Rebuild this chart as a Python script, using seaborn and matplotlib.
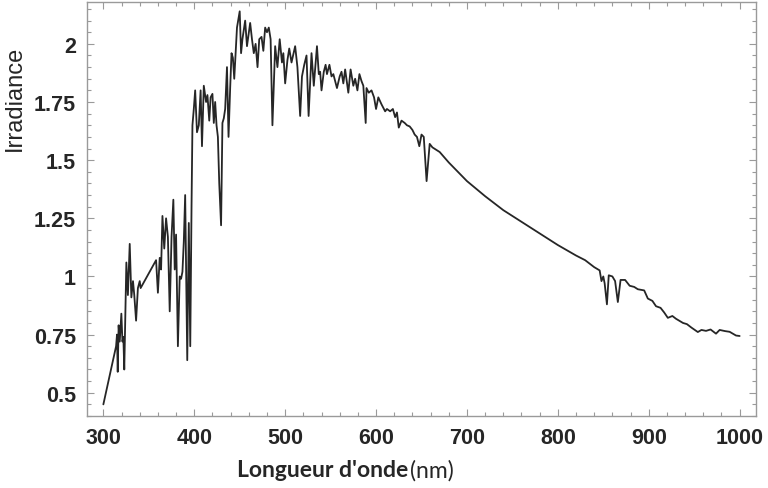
#!/usr/bin/env python3

import matplotlib
matplotlib.use("Agg")
import matplotlib.pylab as plt
from matplotlib.ticker import MultipleLocator, FixedLocator
import pandas as pd
import seaborn as sns

# Spectre solaire (longueur d'onde en nm, irradiance)
wavelength = [
    300, 314, 315, 315.8, 316.8, 318, 319.8, 321, 322, 323, 325.3, 327, 329,
    330.8, 332.6, 334, 336, 338, 340, 341, 358, 360, 362, 363.5, 365, 367, 369,
    371, 373, 375, 377, 378.5, 380, 382, 384, 385.5, 387, 388.5, 390, 392.3,
    394, 395.6, 397, 398, 399.5, 401, 403, 405, 407, 408.5, 410.5, 413, 414.5,
    416.5, 418, 420, 421.5, 423, 424.5, 426, 427.5, 429.5, 431, 432.5, 434,
    436, 437.7, 439.5, 441, 442.5, 444, 447, 450, 451.5, 453, 456, 458, 461.5,
    463.5, 465.5, 467.5, 469.6, 471.5, 474, 476, 478, 480, 482, 484, 486, 489,
    491.5, 494, 496.5, 498, 500, 502.5, 504.5, 507, 511, 513.5, 516.5, 518.5,
    521, 523.5, 525.8, 529, 531.5, 535, 537, 538.5, 540, 542.5, 544.5, 546,
    548.7, 551, 553, 557, 560, 562, 564, 566, 569.5, 572, 575, 577, 579.5,
    581.7, 584, 586, 588.6, 589.5, 592, 595, 597.8, 600, 602.5, 606, 610, 612,
    615.5, 618.5, 621, 623, 625, 628, 631.5, 634, 637, 640, 642.5, 645, 647.6,
    650, 652.5, 655.6, 659, 662, 670, 680, 700, 720, 740, 760, 780, 800, 820,
    825, 830, 835, 840, 843, 846, 848, 850, 851.5, 854, 856, 860, 863, 866,
    869, 874, 879, 884, 888, 895, 899, 904, 908, 913, 917, 921, 926, 930,
    937.7, 942, 947, 954, 958, 963, 968, 974, 978, 984, 989, 996, 1000,
]
irradiance = [
    0.45, 0.70, 0.75, 0.59, 0.79, 0.72, 0.84, 0.72, 0.74, 0.60, 1.06, 0.92, 1.14,
    0.91, 0.98, 0.92, 0.81, 0.95, 0.98, 0.95, 1.07, 0.93, 1.08, 1.03, 1.26, 1.12, 1.25,
    1.17, 0.85, 1.17, 1.33, 1.03, 1.18, 0.70, 1.00, 0.99, 1.02, 1.15, 1.35, 0.64,
    1.23, 0.70, 1.30, 1.65, 1.72, 1.80, 1.62, 1.65, 1.80, 1.56, 1.82, 1.75, 1.78,
    1.67, 1.77, 1.785, 1.66, 1.75, 1.65, 1.60, 1.40, 1.22, 1.66, 1.68, 1.72,
    1.90, 1.60, 1.81, 1.96, 1.94, 1.85, 2.07, 2.14, 1.96, 2.02, 2.10, 1.99, 2.09,
    2.02, 1.96, 2.00, 1.90, 2.02, 2.03, 1.97, 2.07, 2.05, 2.07, 2.02, 1.65, 1.99,
    1.90, 2.02, 1.92, 1.96, 1.83, 1.93, 1.98, 1.92, 1.99, 1.90, 1.69, 1.86,
    1.91, 1.95, 1.69, 1.96, 1.82, 1.99, 1.87, 1.88, 1.80, 1.88, 1.91, 1.87,
    1.91, 1.86, 1.87, 1.81, 1.86, 1.88, 1.83, 1.89, 1.79, 1.89, 1.82, 1.85, 1.80,
    1.87, 1.84, 1.82, 1.66, 1.81, 1.79, 1.80, 1.77, 1.72, 1.77, 1.74, 1.71, 1.72,
    1.71, 1.72, 1.685, 1.705, 1.64, 1.67, 1.66, 1.65, 1.645, 1.63, 1.61, 1.60, 1.56,
    1.61, 1.60, 1.41, 1.57, 1.555, 1.535, 1.49, 1.41, 1.345, 1.285, 1.235, 1.185, 1.135, 1.09,
    1.08, 1.07, 1.055, 1.04, 1.033, 1.026, 0.98, 1.00, 0.97, 0.88, 1.005, 1.00, 0.98, 0.89,
    0.985, 0.985, 0.96, 0.955, 0.945, 0.94, 0.905, 0.895, 0.872, 0.865, 0.845, 0.822, 0.83, 0.818,
    0.80, 0.795, 0.78, 0.761, 0.77, 0.766, 0.772, 0.754, 0.77, 0.765, 0.762, 0.746, 0.744,
]
x_ticks = [300, 400, 500, 600, 700, 800, 900, 1000]
y_ticks = [0.5, 0.75, 1.0, 1.25, 1.5, 1.75, 2.0]
y_tick_labels = ["0.5", "0.75", "1", "1.25", "1.5", "1.75", "2"]

sns.set_style("ticks")
plt.rcParams["font.family"] = ["Liberation Sans", "DejaVu Sans"]
arial = ["Liberation Sans", "DejaVu Sans"]

df = pd.DataFrame({"wl": wavelength, "irr": irradiance})

fig = plt.figure(figsize=(7.68, 4.89), dpi=100)
ax = fig.add_axes([87 / 768, 72 / 489, 669 / 768, 414 / 489])

sns.lineplot(data=df, x="wl", y="irr", ax=ax, color="#262626", linewidth=1.3,
             sort=False, estimator=None)

ax.set_xlim(282, 1018)
ax.set_ylim(0.40, 2.18)
ax.xaxis.set_minor_locator(MultipleLocator(20))
ax.yaxis.set_minor_locator(MultipleLocator(0.05))
ax.set_xticks(x_ticks)
ax.set_xticklabels([str(v) for v in x_ticks], family=arial, fontweight="bold",
                   fontsize=15.5)
ax.set_yticks(y_ticks)
ax.set_yticklabels(y_tick_labels, family=arial, fontweight="bold", fontsize=15.5)

for spine in ax.spines.values():
    spine.set_visible(True)
    spine.set_color("#9a9a9a")
    spine.set_linewidth(1.0)
ax.tick_params(which="both", direction="in", top=True, right=True,
               color="#9a9a9a", width=0.8)
ax.tick_params(which="major", length=5, pad=8)
ax.tick_params(which="minor", length=3)

ax.set_ylabel("Irradiance", fontsize=17, family=arial)
ax.yaxis.set_label_coords(-0.092, 0.77)
ax.set_xlabel("")

# x label: bold part then regular unit
fig.text(408 / 768, 1 - 471 / 489, "Longueur d'onde", ha="right", va="center",
         fontsize=16.5, fontweight="bold", family=["Lato", "DejaVu Sans"])
fig.text(410 / 768, 1 - 471 / 489, "(nm)", ha="left", va="center",
         fontsize=16.5, family=["Lato", "DejaVu Sans"])

plt.savefig("out.png", dpi=100)
